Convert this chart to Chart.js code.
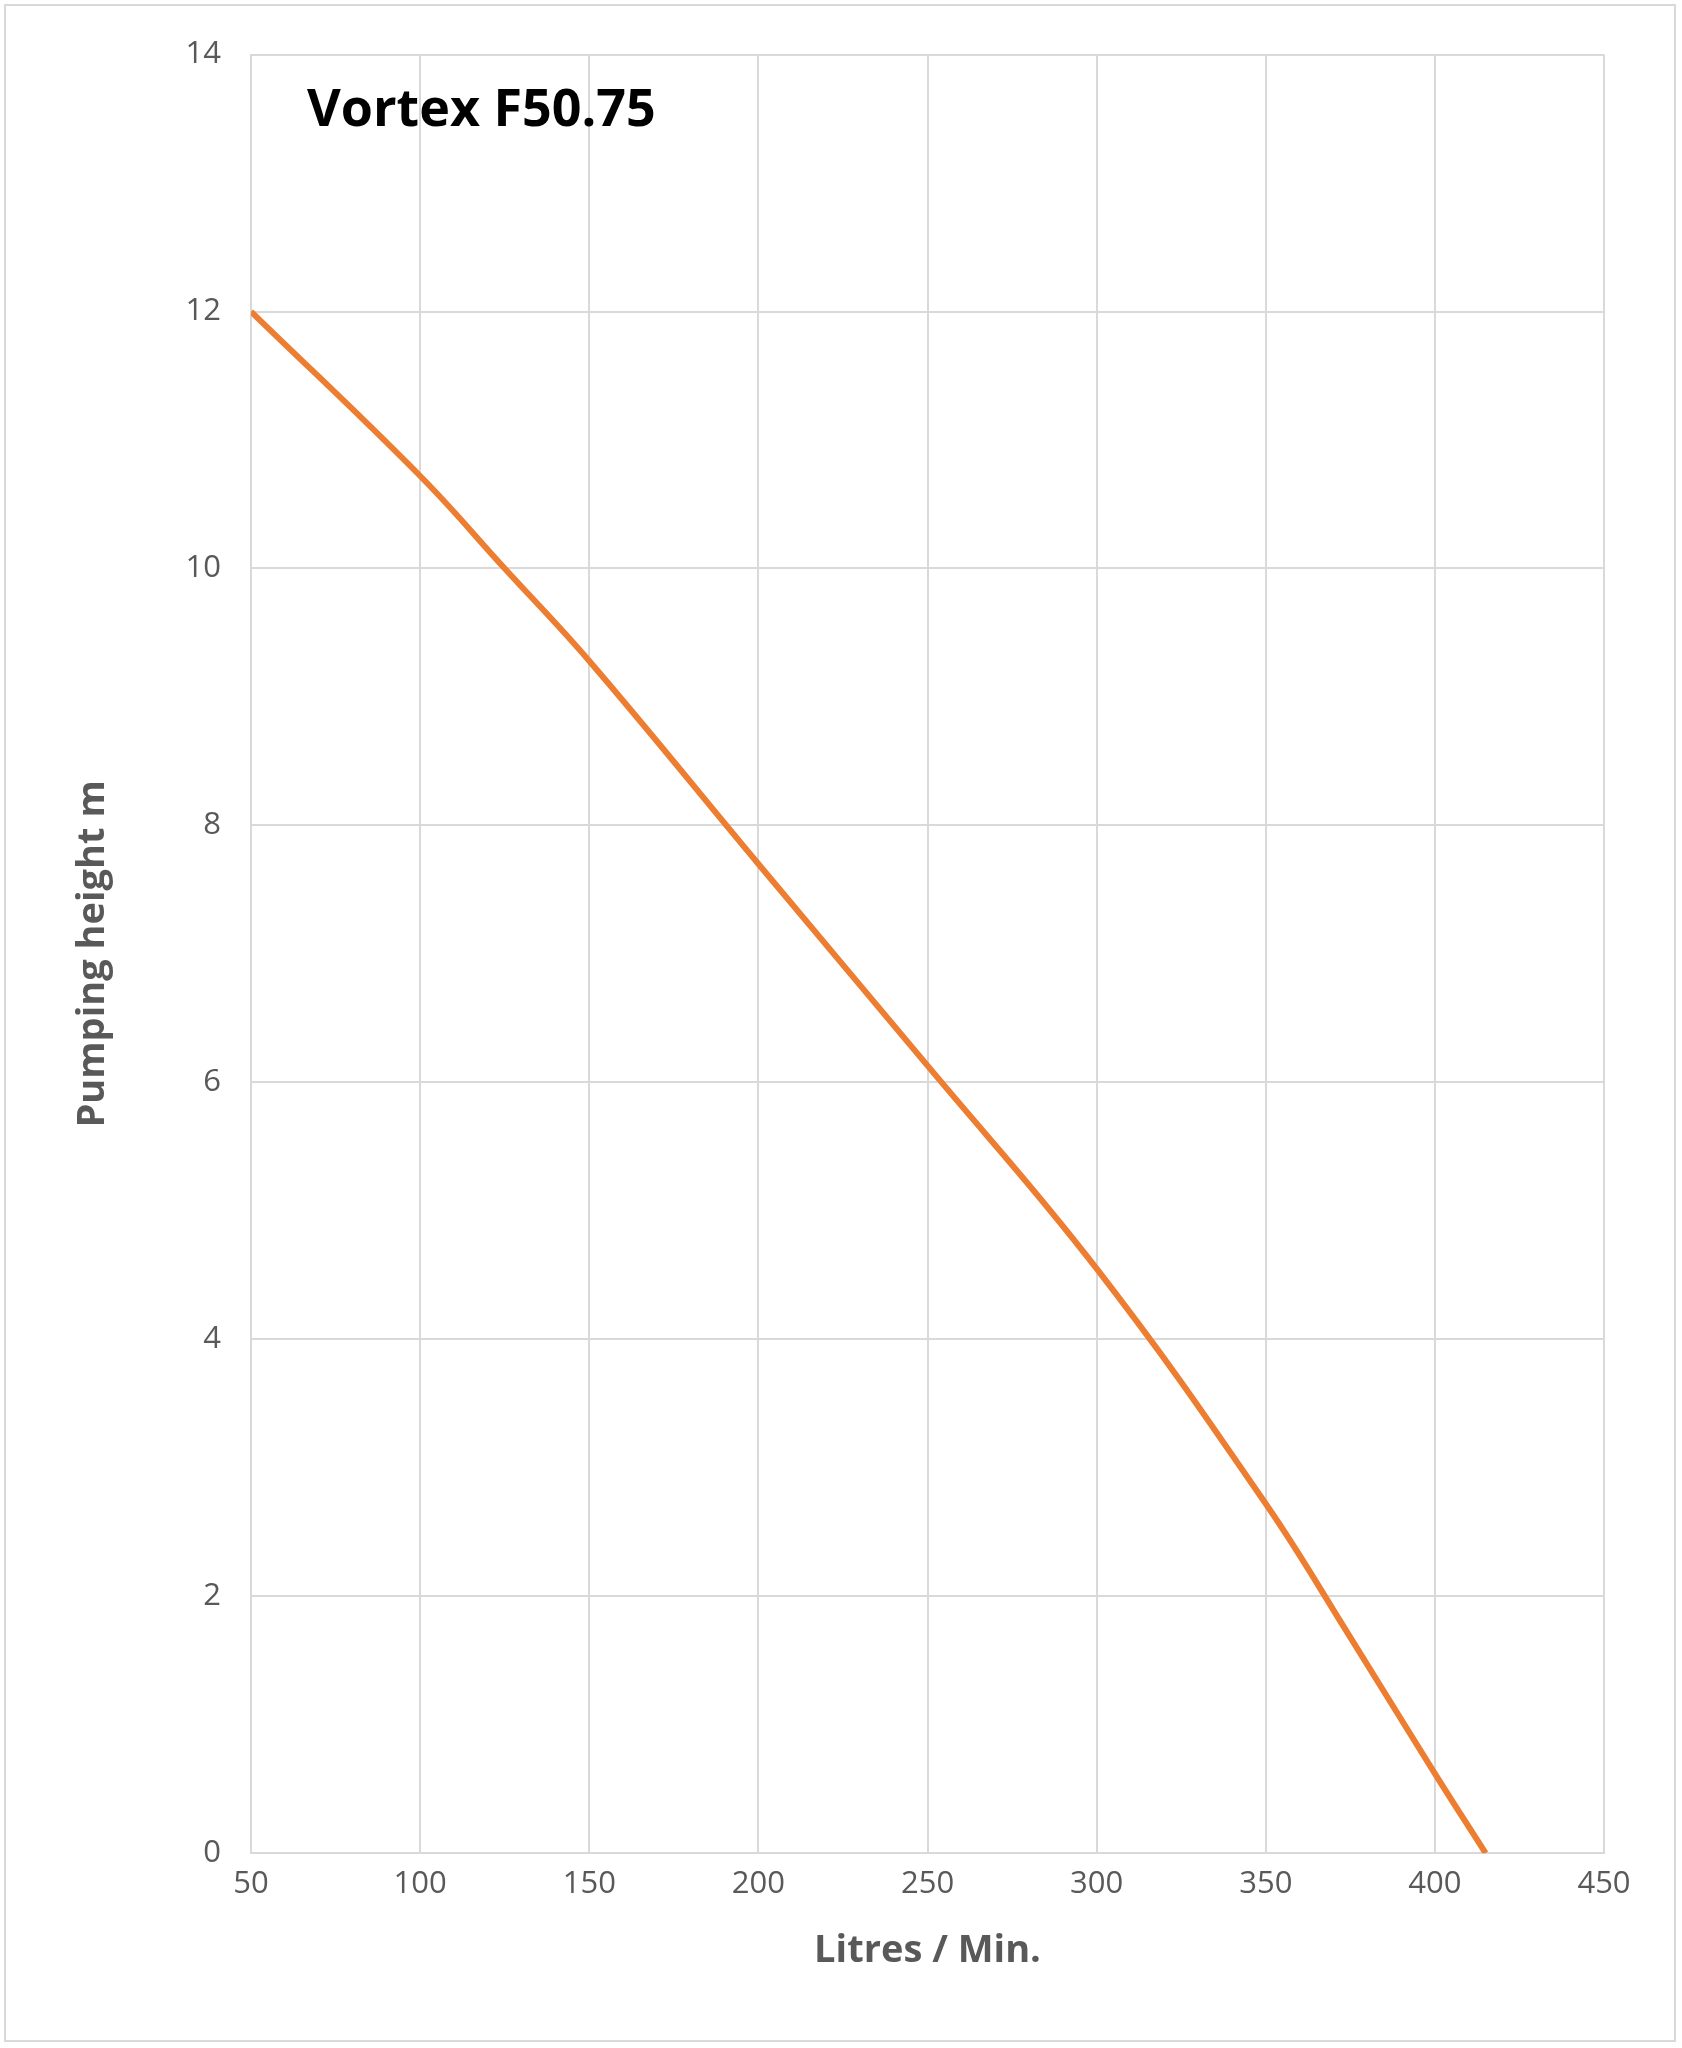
<!DOCTYPE html>
<html><head><meta charset="utf-8">
<script src="https://cdn.jsdelivr.net/npm/chart.js@4"></script>
<style>
body{margin:0;background:#fff;}
#wrap{position:absolute;left:4px;top:4px;width:1672px;height:2038px;border:2px solid #d9d9d9;box-sizing:border-box;}
#title{position:absolute;left:307px;top:70px;font:bold 52px "Open Sans",sans-serif;color:#000;}
</style></head>
<body>
<div id="wrap"><canvas id="c" width="1668" height="2034"></canvas></div>
<div id="title">Vortex F50.75</div>
<script>
// flow (l/min) vs head (m)
var flow = [50, 100, 125, 150, 200, 250, 300, 350, 375, 400, 415];
var head = [12, 10.72, 10.0, 9.28, 7.7, 6.13, 4.55, 2.72, 1.68, 0.62, 0];
var xTicks = [50, 450, 50];
var yTicks = [0, 14, 2];

var pts = flow.map((f, i) => ({x: f, y: head[i]}));
var font = {family: "Open Sans", size: 31};

new Chart(document.getElementById("c").getContext("2d"), {
    type: "line",
    data: {datasets: [{data: pts, borderColor: "#ed7d31", borderWidth: 6, pointRadius: 0, tension: 0.4}]},
    options: {
        responsive: false, animation: false,
        layout: {padding: {top: 30, right: 70, bottom: 62, left: 60}},
        plugins: {legend: {display: false}, tooltip: {enabled: false}},
        scales: {
            x: {type: "linear", min: xTicks[0], max: xTicks[1],
                ticks: {stepSize: xTicks[2], color: "#595959", font: font, padding: 12},
                grid: {color: "#d9d9d9", lineWidth: 2, drawTicks: false},
                border: {color: "#d9d9d9", width: 2},
                title: {display: true, text: "Litres / Min.", color: "#595959", font: {family: "Open Sans", size: 38, weight: "bold"}, padding: {top: 14}}},
            y: {min: yTicks[0], max: yTicks[1],
                ticks: {stepSize: yTicks[2], color: "#595959", font: font, padding: 30},
                grid: {color: "#d9d9d9", lineWidth: 2, drawTicks: false},
                border: {color: "#d9d9d9", width: 2},
                title: {display: true, text: "Pumping height m", color: "#595959", font: {family: "Open Sans", size: 38, weight: "bold"}, padding: {bottom: 40}}}
        }
    }
});
</script>
</body></html>
